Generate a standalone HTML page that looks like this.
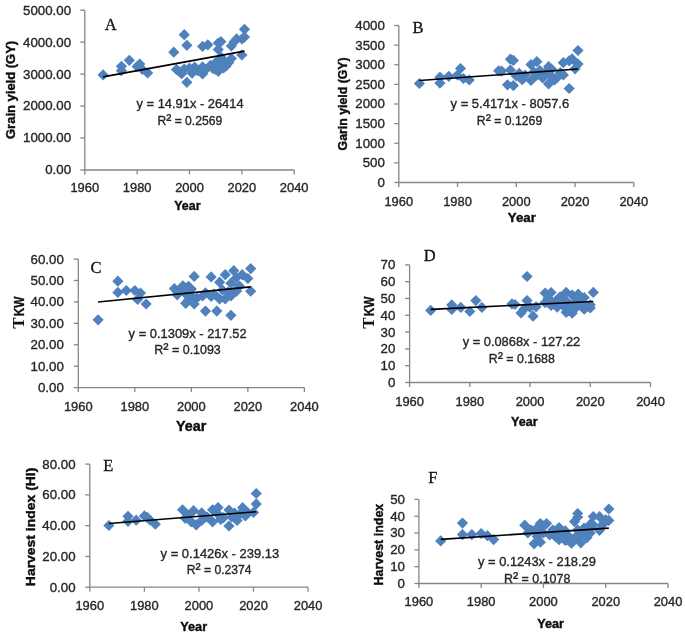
<!DOCTYPE html>
<html><head><meta charset="utf-8"><title>Figure</title>
<style>
html,body{margin:0;padding:0;background:#fff;}
svg{display:block;}
text{font-family:"Liberation Sans",Arial,sans-serif;}
.tk text{font-size:12.9px;fill:#262626;stroke:#262626;stroke-width:0.35px;}
.yr,.yt{font-weight:bold;fill:#0d0d0d;stroke:#0d0d0d;stroke-width:0.4px;}
.lt{font-family:"Liberation Serif","Times New Roman",serif;font-size:16.5px;fill:#111;stroke:#111;stroke-width:0.3px;}
.eq{font-size:13px;fill:#262626;stroke:#262626;stroke-width:0.35px;}
.tk .yl{font-size:13.3px;}
.sup{font-size:16.5px;}
.tT{font-family:"Liberation Serif","Times New Roman",serif;font-weight:bold;font-size:17px;fill:#111;}
.tK{font-family:"Liberation Sans",Arial,sans-serif;font-weight:bold;font-size:14px;fill:#111;stroke:#111;stroke-width:0.3px;}
</style></head>
<body>
<svg width="685" height="639" viewBox="0 0 685 639">
<rect width="685" height="639" fill="#fff"/>
<g stroke="#868686" stroke-width="1.3" fill="none"><line x1="80.3" y1="170" x2="84.8" y2="170"/><line x1="80.3" y1="138.04" x2="84.8" y2="138.04"/><line x1="80.3" y1="106.08" x2="84.8" y2="106.08"/><line x1="80.3" y1="74.12" x2="84.8" y2="74.12"/><line x1="80.3" y1="42.16" x2="84.8" y2="42.16"/><line x1="80.3" y1="10.2" x2="84.8" y2="10.2"/><line x1="84.8" y1="170" x2="84.8" y2="174.5"/><line x1="137.15" y1="170" x2="137.15" y2="174.5"/><line x1="189.5" y1="170" x2="189.5" y2="174.5"/><line x1="241.85" y1="170" x2="241.85" y2="174.5"/><line x1="294.2" y1="170" x2="294.2" y2="174.5"/><line x1="84.8" y1="10.2" x2="84.8" y2="170.5"/><line x1="84.3" y1="170" x2="294.2" y2="170"/></g>
<g class="tk"><text x="71.1" y="174.4" text-anchor="end" class="yl">0.00</text><text x="71.1" y="142.44" text-anchor="end" class="yl">1000.00</text><text x="71.1" y="110.48" text-anchor="end" class="yl">2000.00</text><text x="71.1" y="78.52" text-anchor="end" class="yl">3000.00</text><text x="71.1" y="46.56" text-anchor="end" class="yl">4000.00</text><text x="71.1" y="14.6" text-anchor="end" class="yl">5000.00</text><text x="84.8" y="192.3" text-anchor="middle">1960</text><text x="137.15" y="192.3" text-anchor="middle">1980</text><text x="189.5" y="192.3" text-anchor="middle">2000</text><text x="241.85" y="192.3" text-anchor="middle">2020</text><text x="294.2" y="192.3" text-anchor="middle">2040</text></g>
<text class="yr" x="187.4" y="209.8" text-anchor="middle" style="font-size:13.6px" textLength="26.3" lengthAdjust="spacingAndGlyphs">Year</text>
<text class="lt" x="104.7" y="29.6">A</text>
<path fill="#4F81BD" d="M103.12,69.3l5.6,5.6-5.6,5.6-5.6-5.6zM121.44,60.7l5.6,5.6-5.6,5.6-5.6-5.6zM121.44,65.1l5.6,5.6-5.6,5.6-5.6-5.6zM129.3,54.7l5.6,5.6-5.6,5.6-5.6-5.6zM137.15,60.8l5.6,5.6-5.6,5.6-5.6-5.6zM139.77,58.5l5.6,5.6-5.6,5.6-5.6-5.6zM142.38,63.9l5.6,5.6-5.6,5.6-5.6-5.6zM147.62,67.3l5.6,5.6-5.6,5.6-5.6-5.6zM173.79,46.6l5.6,5.6-5.6,5.6-5.6-5.6zM176.41,63.9l5.6,5.6-5.6,5.6-5.6-5.6zM181.65,68.1l5.6,5.6-5.6,5.6-5.6-5.6zM184.26,29.1l5.6,5.6-5.6,5.6-5.6-5.6zM184.26,63.5l5.6,5.6-5.6,5.6-5.6-5.6zM186.88,39.7l5.6,5.6-5.6,5.6-5.6-5.6zM186.88,76.7l5.6,5.6-5.6,5.6-5.6-5.6zM192.12,67.5l5.6,5.6-5.6,5.6-5.6-5.6zM194.73,61.6l5.6,5.6-5.6,5.6-5.6-5.6zM202.59,40.8l5.6,5.6-5.6,5.6-5.6-5.6zM202.59,61.2l5.6,5.6-5.6,5.6-5.6-5.6zM202.59,68.3l5.6,5.6-5.6,5.6-5.6-5.6zM207.82,39.2l5.6,5.6-5.6,5.6-5.6-5.6zM210.44,59.8l5.6,5.6-5.6,5.6-5.6-5.6zM213.06,63l5.6,5.6-5.6,5.6-5.6-5.6zM218.29,37.4l5.6,5.6-5.6,5.6-5.6-5.6zM218.29,65.7l5.6,5.6-5.6,5.6-5.6-5.6zM220.91,36.1l5.6,5.6-5.6,5.6-5.6-5.6zM220.91,51.6l5.6,5.6-5.6,5.6-5.6-5.6zM226.14,60.4l5.6,5.6-5.6,5.6-5.6-5.6zM228.76,56.8l5.6,5.6-5.6,5.6-5.6-5.6zM231.38,40.4l5.6,5.6-5.6,5.6-5.6-5.6zM234,36.4l5.6,5.6-5.6,5.6-5.6-5.6zM236.62,33.3l5.6,5.6-5.6,5.6-5.6-5.6zM241.85,33.4l5.6,5.6-5.6,5.6-5.6-5.6zM241.85,49.3l5.6,5.6-5.6,5.6-5.6-5.6zM244.47,31.5l5.6,5.6-5.6,5.6-5.6-5.6zM244.47,23.7l5.6,5.6-5.6,5.6-5.6-5.6zM179.03,65.9l5.6,5.6-5.6,5.6-5.6-5.6zM189.5,62.4l5.6,5.6-5.6,5.6-5.6-5.6zM197.35,64.9l5.6,5.6-5.6,5.6-5.6-5.6zM205.2,64.4l5.6,5.6-5.6,5.6-5.6-5.6zM215.67,56.9l5.6,5.6-5.6,5.6-5.6-5.6zM220.91,58.9l5.6,5.6-5.6,5.6-5.6-5.6zM223.53,54.9l5.6,5.6-5.6,5.6-5.6-5.6zM223.53,62.4l5.6,5.6-5.6,5.6-5.6-5.6zM231.38,52.9l5.6,5.6-5.6,5.6-5.6-5.6zM215.67,63.9l5.6,5.6-5.6,5.6-5.6-5.6zM218.29,43.9l5.6,5.6-5.6,5.6-5.6-5.6z"/>
<line x1="103.12" y1="76.87" x2="244.47" y2="51.14" stroke="#000" stroke-width="1.6"/>
<text class="eq" x="136.6" y="108" textLength="107" lengthAdjust="spacingAndGlyphs">y = 14.91x - 26414</text>
<text class="eq" x="157.4" y="125" textLength="64.8" lengthAdjust="spacingAndGlyphs">R<tspan class="sup">²</tspan> = 0.2569</text>
<g stroke="#868686" stroke-width="1.3" fill="none"><line x1="394.3" y1="182.5" x2="398.8" y2="182.5"/><line x1="394.3" y1="162.88" x2="398.8" y2="162.88"/><line x1="394.3" y1="143.25" x2="398.8" y2="143.25"/><line x1="394.3" y1="123.62" x2="398.8" y2="123.62"/><line x1="394.3" y1="104" x2="398.8" y2="104"/><line x1="394.3" y1="84.38" x2="398.8" y2="84.38"/><line x1="394.3" y1="64.75" x2="398.8" y2="64.75"/><line x1="394.3" y1="45.12" x2="398.8" y2="45.12"/><line x1="394.3" y1="25.5" x2="398.8" y2="25.5"/><line x1="398.8" y1="182.5" x2="398.8" y2="187"/><line x1="457.55" y1="182.5" x2="457.55" y2="187"/><line x1="516.3" y1="182.5" x2="516.3" y2="187"/><line x1="575.05" y1="182.5" x2="575.05" y2="187"/><line x1="633.8" y1="182.5" x2="633.8" y2="187"/><line x1="398.8" y1="25.5" x2="398.8" y2="183"/><line x1="398.3" y1="182.5" x2="633.8" y2="182.5"/></g>
<g class="tk"><text x="384.9" y="186.9" text-anchor="end" class="yl">0</text><text x="384.9" y="167.28" text-anchor="end" class="yl">500</text><text x="384.9" y="147.65" text-anchor="end" class="yl">1000</text><text x="384.9" y="128.03" text-anchor="end" class="yl">1500</text><text x="384.9" y="108.4" text-anchor="end" class="yl">2000</text><text x="384.9" y="88.78" text-anchor="end" class="yl">2500</text><text x="384.9" y="69.15" text-anchor="end" class="yl">3000</text><text x="384.9" y="49.52" text-anchor="end" class="yl">3500</text><text x="384.9" y="29.9" text-anchor="end" class="yl">4000</text><text x="398.8" y="206.3" text-anchor="middle">1960</text><text x="457.55" y="206.3" text-anchor="middle">1980</text><text x="516.3" y="206.3" text-anchor="middle">2000</text><text x="575.05" y="206.3" text-anchor="middle">2020</text><text x="633.8" y="206.3" text-anchor="middle">2040</text></g>
<text class="yr" x="521.8" y="222.2" text-anchor="middle" style="font-size:13.0px" textLength="28" lengthAdjust="spacingAndGlyphs">Year</text>
<text class="lt" x="412.4" y="32.8">B</text>
<path fill="#4F81BD" d="M419.36,77.9l5.6,5.6-5.6,5.6-5.6-5.6zM439.93,71.6l5.6,5.6-5.6,5.6-5.6-5.6zM439.93,77.5l5.6,5.6-5.6,5.6-5.6-5.6zM448.74,70.7l5.6,5.6-5.6,5.6-5.6-5.6zM457.55,69.5l5.6,5.6-5.6,5.6-5.6-5.6zM460.49,62.9l5.6,5.6-5.6,5.6-5.6-5.6zM463.43,72.9l5.6,5.6-5.6,5.6-5.6-5.6zM469.3,74.4l5.6,5.6-5.6,5.6-5.6-5.6zM498.67,65.2l5.6,5.6-5.6,5.6-5.6-5.6zM501.61,65.5l5.6,5.6-5.6,5.6-5.6-5.6zM507.49,79.2l5.6,5.6-5.6,5.6-5.6-5.6zM510.42,53.6l5.6,5.6-5.6,5.6-5.6-5.6zM510.42,64.4l5.6,5.6-5.6,5.6-5.6-5.6zM513.36,54.8l5.6,5.6-5.6,5.6-5.6-5.6zM513.36,80l5.6,5.6-5.6,5.6-5.6-5.6zM516.3,70.4l5.6,5.6-5.6,5.6-5.6-5.6zM519.24,67.7l5.6,5.6-5.6,5.6-5.6-5.6zM522.17,74.1l5.6,5.6-5.6,5.6-5.6-5.6zM530.99,59l5.6,5.6-5.6,5.6-5.6-5.6zM530.99,74.9l5.6,5.6-5.6,5.6-5.6-5.6zM533.92,66.4l5.6,5.6-5.6,5.6-5.6-5.6zM536.86,56.1l5.6,5.6-5.6,5.6-5.6-5.6zM536.86,69.6l5.6,5.6-5.6,5.6-5.6-5.6zM542.74,72.4l5.6,5.6-5.6,5.6-5.6-5.6zM545.67,66.4l5.6,5.6-5.6,5.6-5.6-5.6zM548.61,61.1l5.6,5.6-5.6,5.6-5.6-5.6zM548.61,78.3l5.6,5.6-5.6,5.6-5.6-5.6zM551.55,70.4l5.6,5.6-5.6,5.6-5.6-5.6zM557.42,71.7l5.6,5.6-5.6,5.6-5.6-5.6zM560.36,66.9l5.6,5.6-5.6,5.6-5.6-5.6zM563.3,57.1l5.6,5.6-5.6,5.6-5.6-5.6zM563.3,69.3l5.6,5.6-5.6,5.6-5.6-5.6zM569.17,55.2l5.6,5.6-5.6,5.6-5.6-5.6zM569.17,82.9l5.6,5.6-5.6,5.6-5.6-5.6zM572.11,53.3l5.6,5.6-5.6,5.6-5.6-5.6zM575.05,63.2l5.6,5.6-5.6,5.6-5.6-5.6zM577.99,44.9l5.6,5.6-5.6,5.6-5.6-5.6zM577.99,58.5l5.6,5.6-5.6,5.6-5.6-5.6zM539.8,64.9l5.6,5.6-5.6,5.6-5.6-5.6zM551.55,63.4l5.6,5.6-5.6,5.6-5.6-5.6zM554.49,74.4l5.6,5.6-5.6,5.6-5.6-5.6zM525.11,69.4l5.6,5.6-5.6,5.6-5.6-5.6z"/>
<line x1="419.36" y1="80.53" x2="577.99" y2="69.05" stroke="#000" stroke-width="1.6"/>
<text class="eq" x="450.6" y="108.4" textLength="118.6" lengthAdjust="spacingAndGlyphs">y = 5.4171x - 8057.6</text>
<text class="eq" x="476.8" y="125.2" textLength="65.4" lengthAdjust="spacingAndGlyphs">R<tspan class="sup">²</tspan> = 0.1269</text>
<g stroke="#868686" stroke-width="1.3" fill="none"><line x1="73.8" y1="387.6" x2="78.3" y2="387.6"/><line x1="73.8" y1="366.18" x2="78.3" y2="366.18"/><line x1="73.8" y1="344.77" x2="78.3" y2="344.77"/><line x1="73.8" y1="323.35" x2="78.3" y2="323.35"/><line x1="73.8" y1="301.93" x2="78.3" y2="301.93"/><line x1="73.8" y1="280.52" x2="78.3" y2="280.52"/><line x1="73.8" y1="259.1" x2="78.3" y2="259.1"/><line x1="78.3" y1="387.6" x2="78.3" y2="392.1"/><line x1="134.82" y1="387.6" x2="134.82" y2="392.1"/><line x1="191.35" y1="387.6" x2="191.35" y2="392.1"/><line x1="247.88" y1="387.6" x2="247.88" y2="392.1"/><line x1="304.4" y1="387.6" x2="304.4" y2="392.1"/><line x1="78.3" y1="259.1" x2="78.3" y2="388.1"/><line x1="77.8" y1="387.6" x2="304.4" y2="387.6"/></g>
<g class="tk"><text x="63.8" y="392" text-anchor="end" class="yl">0.00</text><text x="63.8" y="370.58" text-anchor="end" class="yl">10.00</text><text x="63.8" y="349.17" text-anchor="end" class="yl">20.00</text><text x="63.8" y="327.75" text-anchor="end" class="yl">30.00</text><text x="63.8" y="306.33" text-anchor="end" class="yl">40.00</text><text x="63.8" y="284.92" text-anchor="end" class="yl">50.00</text><text x="63.8" y="263.5" text-anchor="end" class="yl">60.00</text><text x="78.3" y="410.6" text-anchor="middle">1960</text><text x="134.82" y="410.6" text-anchor="middle">1980</text><text x="191.35" y="410.6" text-anchor="middle">2000</text><text x="247.88" y="410.6" text-anchor="middle">2020</text><text x="304.4" y="410.6" text-anchor="middle">2040</text></g>
<text class="yr" x="191.2" y="430.9" text-anchor="middle" style="font-size:15.3px" textLength="30.3" lengthAdjust="spacingAndGlyphs">Year</text>
<text class="lt" x="90.4" y="272.9">C</text>
<path fill="#4F81BD" d="M98.08,314.2l5.6,5.6-5.6,5.6-5.6-5.6zM117.87,275.6l5.6,5.6-5.6,5.6-5.6-5.6zM117.87,286.8l5.6,5.6-5.6,5.6-5.6-5.6zM126.35,284.9l5.6,5.6-5.6,5.6-5.6-5.6zM134.82,284.9l5.6,5.6-5.6,5.6-5.6-5.6zM137.65,293.8l5.6,5.6-5.6,5.6-5.6-5.6zM140.48,287.5l5.6,5.6-5.6,5.6-5.6-5.6zM146.13,298.4l5.6,5.6-5.6,5.6-5.6-5.6zM174.39,283l5.6,5.6-5.6,5.6-5.6-5.6zM177.22,289.2l5.6,5.6-5.6,5.6-5.6-5.6zM180.04,286.4l5.6,5.6-5.6,5.6-5.6-5.6zM182.87,280.2l5.6,5.6-5.6,5.6-5.6-5.6zM185.7,297.7l5.6,5.6-5.6,5.6-5.6-5.6zM185.7,288.4l5.6,5.6-5.6,5.6-5.6-5.6zM188.52,280.7l5.6,5.6-5.6,5.6-5.6-5.6zM188.52,294.4l5.6,5.6-5.6,5.6-5.6-5.6zM191.35,283.4l5.6,5.6-5.6,5.6-5.6-5.6zM191.35,290.4l5.6,5.6-5.6,5.6-5.6-5.6zM194.18,270.8l5.6,5.6-5.6,5.6-5.6-5.6zM194.18,298.3l5.6,5.6-5.6,5.6-5.6-5.6zM197,292.4l5.6,5.6-5.6,5.6-5.6-5.6zM205.48,287.3l5.6,5.6-5.6,5.6-5.6-5.6zM205.48,305.5l5.6,5.6-5.6,5.6-5.6-5.6zM211.13,271.3l5.6,5.6-5.6,5.6-5.6-5.6zM211.13,290.9l5.6,5.6-5.6,5.6-5.6-5.6zM216.79,305.5l5.6,5.6-5.6,5.6-5.6-5.6zM219.61,276.6l5.6,5.6-5.6,5.6-5.6-5.6zM225.26,269.1l5.6,5.6-5.6,5.6-5.6-5.6zM225.26,293.2l5.6,5.6-5.6,5.6-5.6-5.6zM228.09,286.4l5.6,5.6-5.6,5.6-5.6-5.6zM230.92,277.6l5.6,5.6-5.6,5.6-5.6-5.6zM230.92,309.7l5.6,5.6-5.6,5.6-5.6-5.6zM233.74,265.1l5.6,5.6-5.6,5.6-5.6-5.6zM236.57,271.9l5.6,5.6-5.6,5.6-5.6-5.6zM236.57,285.5l5.6,5.6-5.6,5.6-5.6-5.6zM242.22,269.1l5.6,5.6-5.6,5.6-5.6-5.6zM247.88,272.9l5.6,5.6-5.6,5.6-5.6-5.6zM250.7,263l5.6,5.6-5.6,5.6-5.6-5.6zM250.7,285.6l5.6,5.6-5.6,5.6-5.6-5.6zM222.44,284.4l5.6,5.6-5.6,5.6-5.6-5.6zM233.74,286.4l5.6,5.6-5.6,5.6-5.6-5.6zM239.4,280.4l5.6,5.6-5.6,5.6-5.6-5.6zM202.65,290.4l5.6,5.6-5.6,5.6-5.6-5.6zM219.61,293.4l5.6,5.6-5.6,5.6-5.6-5.6zM230.92,290.4l5.6,5.6-5.6,5.6-5.6-5.6zM213.96,288.4l5.6,5.6-5.6,5.6-5.6-5.6z"/>
<line x1="98.08" y1="302.02" x2="250.7" y2="286.88" stroke="#000" stroke-width="1.6"/>
<text class="eq" x="128.6" y="338" textLength="118.1" lengthAdjust="spacingAndGlyphs">y = 0.1309x - 217.52</text>
<text class="eq" x="154.3" y="354.3" textLength="66.5" lengthAdjust="spacingAndGlyphs">R<tspan class="sup">²</tspan> = 0.1093</text>
<g stroke="#868686" stroke-width="1.3" fill="none"><line x1="405.1" y1="382.5" x2="409.6" y2="382.5"/><line x1="405.1" y1="365.7" x2="409.6" y2="365.7"/><line x1="405.1" y1="348.9" x2="409.6" y2="348.9"/><line x1="405.1" y1="332.1" x2="409.6" y2="332.1"/><line x1="405.1" y1="315.3" x2="409.6" y2="315.3"/><line x1="405.1" y1="298.5" x2="409.6" y2="298.5"/><line x1="405.1" y1="281.7" x2="409.6" y2="281.7"/><line x1="405.1" y1="264.9" x2="409.6" y2="264.9"/><line x1="409.6" y1="382.5" x2="409.6" y2="387"/><line x1="469.83" y1="382.5" x2="469.83" y2="387"/><line x1="530.05" y1="382.5" x2="530.05" y2="387"/><line x1="590.27" y1="382.5" x2="590.27" y2="387"/><line x1="650.5" y1="382.5" x2="650.5" y2="387"/><line x1="409.6" y1="264.9" x2="409.6" y2="383"/><line x1="409.1" y1="382.5" x2="650.5" y2="382.5"/></g>
<g class="tk"><text x="395.3" y="386.9" text-anchor="end" class="yl">0</text><text x="395.3" y="370.1" text-anchor="end" class="yl">10</text><text x="395.3" y="353.3" text-anchor="end" class="yl">20</text><text x="395.3" y="336.5" text-anchor="end" class="yl">30</text><text x="395.3" y="319.7" text-anchor="end" class="yl">40</text><text x="395.3" y="302.9" text-anchor="end" class="yl">50</text><text x="395.3" y="286.1" text-anchor="end" class="yl">60</text><text x="395.3" y="269.3" text-anchor="end" class="yl">70</text><text x="409.6" y="406.4" text-anchor="middle">1960</text><text x="469.83" y="406.4" text-anchor="middle">1980</text><text x="530.05" y="406.4" text-anchor="middle">2000</text><text x="590.27" y="406.4" text-anchor="middle">2020</text><text x="650.5" y="406.4" text-anchor="middle">2040</text></g>
<text class="yr" x="524.3" y="426" text-anchor="middle" style="font-size:12.8px" textLength="26.5" lengthAdjust="spacingAndGlyphs">Year</text>
<text class="lt" x="423.7" y="260.7">D</text>
<path fill="#4F81BD" d="M430.68,304.8l5.6,5.6-5.6,5.6-5.6-5.6zM451.76,299.3l5.6,5.6-5.6,5.6-5.6-5.6zM451.76,303.9l5.6,5.6-5.6,5.6-5.6-5.6zM460.79,301.8l5.6,5.6-5.6,5.6-5.6-5.6zM469.83,305.9l5.6,5.6-5.6,5.6-5.6-5.6zM475.85,295l5.6,5.6-5.6,5.6-5.6-5.6zM481.87,301.8l5.6,5.6-5.6,5.6-5.6-5.6zM511.98,298.3l5.6,5.6-5.6,5.6-5.6-5.6zM514.99,298.9l5.6,5.6-5.6,5.6-5.6-5.6zM521.02,307.3l5.6,5.6-5.6,5.6-5.6-5.6zM524.03,303.5l5.6,5.6-5.6,5.6-5.6-5.6zM527.04,270.9l5.6,5.6-5.6,5.6-5.6-5.6zM527.04,295l5.6,5.6-5.6,5.6-5.6-5.6zM530.05,301.7l5.6,5.6-5.6,5.6-5.6-5.6zM533.06,310.6l5.6,5.6-5.6,5.6-5.6-5.6zM536.07,301.2l5.6,5.6-5.6,5.6-5.6-5.6zM545.11,287.4l5.6,5.6-5.6,5.6-5.6-5.6zM545.11,297l5.6,5.6-5.6,5.6-5.6-5.6zM551.13,286.9l5.6,5.6-5.6,5.6-5.6-5.6zM551.13,299.8l5.6,5.6-5.6,5.6-5.6-5.6zM557.15,301.5l5.6,5.6-5.6,5.6-5.6-5.6zM557.15,293.9l5.6,5.6-5.6,5.6-5.6-5.6zM560.16,291.2l5.6,5.6-5.6,5.6-5.6-5.6zM563.17,300l5.6,5.6-5.6,5.6-5.6-5.6zM566.18,286.8l5.6,5.6-5.6,5.6-5.6-5.6zM566.18,306.7l5.6,5.6-5.6,5.6-5.6-5.6zM572.21,307.6l5.6,5.6-5.6,5.6-5.6-5.6zM572.21,289.5l5.6,5.6-5.6,5.6-5.6-5.6zM575.22,302.7l5.6,5.6-5.6,5.6-5.6-5.6zM578.23,288.6l5.6,5.6-5.6,5.6-5.6-5.6zM581.24,293.9l5.6,5.6-5.6,5.6-5.6-5.6zM584.25,292.1l5.6,5.6-5.6,5.6-5.6-5.6zM584.25,303.6l5.6,5.6-5.6,5.6-5.6-5.6zM587.26,300.9l5.6,5.6-5.6,5.6-5.6-5.6zM590.27,299.2l5.6,5.6-5.6,5.6-5.6-5.6zM590.27,302.3l5.6,5.6-5.6,5.6-5.6-5.6zM593.29,286.8l5.6,5.6-5.6,5.6-5.6-5.6zM566.18,295.4l5.6,5.6-5.6,5.6-5.6-5.6zM575.22,296.4l5.6,5.6-5.6,5.6-5.6-5.6zM548.12,292.4l5.6,5.6-5.6,5.6-5.6-5.6zM569.2,300.4l5.6,5.6-5.6,5.6-5.6-5.6zM581.24,298.4l5.6,5.6-5.6,5.6-5.6-5.6zM554.14,297.4l5.6,5.6-5.6,5.6-5.6-5.6z"/>
<line x1="430.68" y1="309.39" x2="593.29" y2="301.52" stroke="#000" stroke-width="1.6"/>
<text class="eq" x="462.7" y="345.9" textLength="117.5" lengthAdjust="spacingAndGlyphs">y = 0.0868x - 127.22</text>
<text class="eq" x="488.8" y="362.7" textLength="66" lengthAdjust="spacingAndGlyphs">R<tspan class="sup">²</tspan> = 0.1688</text>
<g stroke="#868686" stroke-width="1.3" fill="none"><line x1="85.3" y1="587.2" x2="89.8" y2="587.2"/><line x1="85.3" y1="556.43" x2="89.8" y2="556.43"/><line x1="85.3" y1="525.65" x2="89.8" y2="525.65"/><line x1="85.3" y1="494.88" x2="89.8" y2="494.88"/><line x1="85.3" y1="464.1" x2="89.8" y2="464.1"/><line x1="89.8" y1="587.2" x2="89.8" y2="591.7"/><line x1="144.38" y1="587.2" x2="144.38" y2="591.7"/><line x1="198.95" y1="587.2" x2="198.95" y2="591.7"/><line x1="253.53" y1="587.2" x2="253.53" y2="591.7"/><line x1="308.1" y1="587.2" x2="308.1" y2="591.7"/><line x1="89.8" y1="464.1" x2="89.8" y2="587.7"/><line x1="89.3" y1="587.2" x2="308.1" y2="587.2"/></g>
<g class="tk"><text x="75.6" y="591.6" text-anchor="end" class="yl">0.00</text><text x="75.6" y="560.83" text-anchor="end" class="yl">20.00</text><text x="75.6" y="530.05" text-anchor="end" class="yl">40.00</text><text x="75.6" y="499.27" text-anchor="end" class="yl">60.00</text><text x="75.6" y="468.5" text-anchor="end" class="yl">80.00</text><text x="89.8" y="610.3" text-anchor="middle">1960</text><text x="144.38" y="610.3" text-anchor="middle">1980</text><text x="198.95" y="610.3" text-anchor="middle">2000</text><text x="253.53" y="610.3" text-anchor="middle">2020</text><text x="308.1" y="610.3" text-anchor="middle">2040</text></g>
<text class="yr" x="193.7" y="630.5" text-anchor="middle" style="font-size:12.8px" textLength="26.8" lengthAdjust="spacingAndGlyphs">Year</text>
<text class="lt" x="103.2" y="471.4">E</text>
<path fill="#4F81BD" d="M108.9,519.9l5.6,5.6-5.6,5.6-5.6-5.6zM128,510.7l5.6,5.6-5.6,5.6-5.6-5.6zM128,515.7l5.6,5.6-5.6,5.6-5.6-5.6zM136.19,514.6l5.6,5.6-5.6,5.6-5.6-5.6zM144.38,510.3l5.6,5.6-5.6,5.6-5.6-5.6zM147.1,511.7l5.6,5.6-5.6,5.6-5.6-5.6zM149.83,514.3l5.6,5.6-5.6,5.6-5.6-5.6zM155.29,518.6l5.6,5.6-5.6,5.6-5.6-5.6zM182.58,504.2l5.6,5.6-5.6,5.6-5.6-5.6zM185.31,512.7l5.6,5.6-5.6,5.6-5.6-5.6zM190.76,515.7l5.6,5.6-5.6,5.6-5.6-5.6zM193.49,505.1l5.6,5.6-5.6,5.6-5.6-5.6zM196.22,519.3l5.6,5.6-5.6,5.6-5.6-5.6zM201.68,507.3l5.6,5.6-5.6,5.6-5.6-5.6zM201.68,514.8l5.6,5.6-5.6,5.6-5.6-5.6zM212.59,504.2l5.6,5.6-5.6,5.6-5.6-5.6zM212.59,516.2l5.6,5.6-5.6,5.6-5.6-5.6zM218.05,502l5.6,5.6-5.6,5.6-5.6-5.6zM218.05,508.7l5.6,5.6-5.6,5.6-5.6-5.6zM220.78,513.9l5.6,5.6-5.6,5.6-5.6-5.6zM223.51,512l5.6,5.6-5.6,5.6-5.6-5.6zM228.97,504.4l5.6,5.6-5.6,5.6-5.6-5.6zM228.97,520.4l5.6,5.6-5.6,5.6-5.6-5.6zM237.15,514.8l5.6,5.6-5.6,5.6-5.6-5.6zM242.61,502.1l5.6,5.6-5.6,5.6-5.6-5.6zM248.07,507.3l5.6,5.6-5.6,5.6-5.6-5.6zM253.52,506.8l5.6,5.6-5.6,5.6-5.6-5.6zM256.25,487.9l5.6,5.6-5.6,5.6-5.6-5.6zM256.25,498.3l5.6,5.6-5.6,5.6-5.6-5.6zM188.03,509.4l5.6,5.6-5.6,5.6-5.6-5.6zM207.14,511.4l5.6,5.6-5.6,5.6-5.6-5.6zM231.69,511.4l5.6,5.6-5.6,5.6-5.6-5.6zM234.42,507.4l5.6,5.6-5.6,5.6-5.6-5.6zM239.88,508.4l5.6,5.6-5.6,5.6-5.6-5.6zM245.34,510.4l5.6,5.6-5.6,5.6-5.6-5.6z"/>
<line x1="108.9" y1="523.55" x2="256.25" y2="511.7" stroke="#000" stroke-width="1.6"/>
<text class="eq" x="160.6" y="557.8" textLength="118.6" lengthAdjust="spacingAndGlyphs">y = 0.1426x - 239.13</text>
<text class="eq" x="186.8" y="573.7" textLength="64.8" lengthAdjust="spacingAndGlyphs">R<tspan class="sup">²</tspan> = 0.2374</text>
<g stroke="#868686" stroke-width="1.3" fill="none"><line x1="414.4" y1="583.5" x2="418.9" y2="583.5"/><line x1="414.4" y1="566.68" x2="418.9" y2="566.68"/><line x1="414.4" y1="549.86" x2="418.9" y2="549.86"/><line x1="414.4" y1="533.04" x2="418.9" y2="533.04"/><line x1="414.4" y1="516.22" x2="418.9" y2="516.22"/><line x1="414.4" y1="499.4" x2="418.9" y2="499.4"/><line x1="418.9" y1="583.5" x2="418.9" y2="588"/><line x1="481.17" y1="583.5" x2="481.17" y2="588"/><line x1="543.45" y1="583.5" x2="543.45" y2="588"/><line x1="605.73" y1="583.5" x2="605.73" y2="588"/><line x1="668" y1="583.5" x2="668" y2="588"/><line x1="418.9" y1="499.4" x2="418.9" y2="584"/><line x1="418.4" y1="583.5" x2="668" y2="583.5"/></g>
<g class="tk"><text x="405" y="587.9" text-anchor="end" class="yl">0</text><text x="405" y="571.08" text-anchor="end" class="yl">10</text><text x="405" y="554.26" text-anchor="end" class="yl">20</text><text x="405" y="537.44" text-anchor="end" class="yl">30</text><text x="405" y="520.62" text-anchor="end" class="yl">40</text><text x="405" y="503.8" text-anchor="end" class="yl">50</text><text x="418.9" y="606.2" text-anchor="middle">1960</text><text x="481.17" y="606.2" text-anchor="middle">1980</text><text x="543.45" y="606.2" text-anchor="middle">2000</text><text x="605.73" y="606.2" text-anchor="middle">2020</text><text x="668" y="606.2" text-anchor="middle">2040</text></g>
<text class="yr" x="550.6" y="627.7" text-anchor="middle" style="font-size:13.2px" textLength="26.7" lengthAdjust="spacingAndGlyphs">Year</text>
<text class="lt" x="428.2" y="482.5">F</text>
<path fill="#4F81BD" d="M440.7,535.3l5.6,5.6-5.6,5.6-5.6-5.6zM462.49,517.5l5.6,5.6-5.6,5.6-5.6-5.6zM462.49,529l5.6,5.6-5.6,5.6-5.6-5.6zM471.83,529l5.6,5.6-5.6,5.6-5.6-5.6zM481.17,527.9l5.6,5.6-5.6,5.6-5.6-5.6zM487.4,530.1l5.6,5.6-5.6,5.6-5.6-5.6zM493.63,534l5.6,5.6-5.6,5.6-5.6-5.6zM524.77,519.6l5.6,5.6-5.6,5.6-5.6-5.6zM527.88,527.3l5.6,5.6-5.6,5.6-5.6-5.6zM531,524.5l5.6,5.6-5.6,5.6-5.6-5.6zM534.11,538.2l5.6,5.6-5.6,5.6-5.6-5.6zM537.22,530.9l5.6,5.6-5.6,5.6-5.6-5.6zM540.34,518l5.6,5.6-5.6,5.6-5.6-5.6zM540.34,536.6l5.6,5.6-5.6,5.6-5.6-5.6zM543.45,520.5l5.6,5.6-5.6,5.6-5.6-5.6zM546.56,518l5.6,5.6-5.6,5.6-5.6-5.6zM549.68,529.3l5.6,5.6-5.6,5.6-5.6-5.6zM559.02,521.9l5.6,5.6-5.6,5.6-5.6-5.6zM559.02,534l5.6,5.6-5.6,5.6-5.6-5.6zM565.25,525.3l5.6,5.6-5.6,5.6-5.6-5.6zM565.25,534.8l5.6,5.6-5.6,5.6-5.6-5.6zM571.47,537.6l5.6,5.6-5.6,5.6-5.6-5.6zM574.59,516l5.6,5.6-5.6,5.6-5.6-5.6zM577.7,508l5.6,5.6-5.6,5.6-5.6-5.6zM577.7,511.3l5.6,5.6-5.6,5.6-5.6-5.6zM580.82,537.2l5.6,5.6-5.6,5.6-5.6-5.6zM583.93,522.6l5.6,5.6-5.6,5.6-5.6-5.6zM587.04,532l5.6,5.6-5.6,5.6-5.6-5.6zM590.16,518.8l5.6,5.6-5.6,5.6-5.6-5.6zM593.27,510.9l5.6,5.6-5.6,5.6-5.6-5.6zM593.27,519.5l5.6,5.6-5.6,5.6-5.6-5.6zM599.5,511.1l5.6,5.6-5.6,5.6-5.6-5.6zM599.5,524.7l5.6,5.6-5.6,5.6-5.6-5.6zM602.61,519.1l5.6,5.6-5.6,5.6-5.6-5.6zM605.73,514.2l5.6,5.6-5.6,5.6-5.6-5.6zM608.84,503.4l5.6,5.6-5.6,5.6-5.6-5.6zM608.84,514.8l5.6,5.6-5.6,5.6-5.6-5.6zM552.79,524.4l5.6,5.6-5.6,5.6-5.6-5.6zM568.36,530.4l5.6,5.6-5.6,5.6-5.6-5.6zM577.7,524.4l5.6,5.6-5.6,5.6-5.6-5.6zM580.82,529.4l5.6,5.6-5.6,5.6-5.6-5.6zM590.16,527.4l5.6,5.6-5.6,5.6-5.6-5.6zM534.11,525.4l5.6,5.6-5.6,5.6-5.6-5.6zM543.45,527.4l5.6,5.6-5.6,5.6-5.6-5.6zM555.9,531.4l5.6,5.6-5.6,5.6-5.6-5.6zM574.59,532.4l5.6,5.6-5.6,5.6-5.6-5.6zM562.13,527.4l5.6,5.6-5.6,5.6-5.6-5.6zM587.04,524.4l5.6,5.6-5.6,5.6-5.6-5.6zM537.22,522.4l5.6,5.6-5.6,5.6-5.6-5.6z"/>
<line x1="440.7" y1="539.42" x2="608.84" y2="528.13" stroke="#000" stroke-width="1.6"/>
<text class="eq" x="478" y="565.9" textLength="117.9" lengthAdjust="spacingAndGlyphs">y = 0.1243x - 218.29</text>
<text class="eq" x="503.9" y="582.7" textLength="66.5" lengthAdjust="spacingAndGlyphs">R<tspan class="sup">²</tspan> = 0.1078</text>
<text class="yt" transform="translate(15.2,89.9) rotate(-90)" text-anchor="middle" style="font-size:13.6px" textLength="98.2" lengthAdjust="spacingAndGlyphs">Grain yield (GY)</text>
<text class="yt" transform="translate(347,103.9) rotate(-90)" text-anchor="middle" style="font-size:12.6px" textLength="93.1" lengthAdjust="spacingAndGlyphs">Garin yield (GY)</text>
<text class="yt" transform="translate(34.7,526.9) rotate(-90)" text-anchor="middle" style="font-size:13.2px" textLength="118.6" lengthAdjust="spacingAndGlyphs">Harvest index (HI)</text>
<text class="yt" transform="translate(382.5,544.6) rotate(-90)" text-anchor="middle" style="font-size:12.9px" textLength="81.7" lengthAdjust="spacingAndGlyphs">Harvest index</text>
<text transform="translate(24.4,328.7) rotate(-90)"><tspan class="tT">T</tspan><tspan class="tK" dx="1" textLength="19.8" lengthAdjust="spacingAndGlyphs">KW</tspan></text>
<text transform="translate(373.5,328.7) rotate(-90)"><tspan class="tT">T</tspan><tspan class="tK" dx="1" textLength="19.8" lengthAdjust="spacingAndGlyphs">KW</tspan></text>
</svg>
</body></html>
